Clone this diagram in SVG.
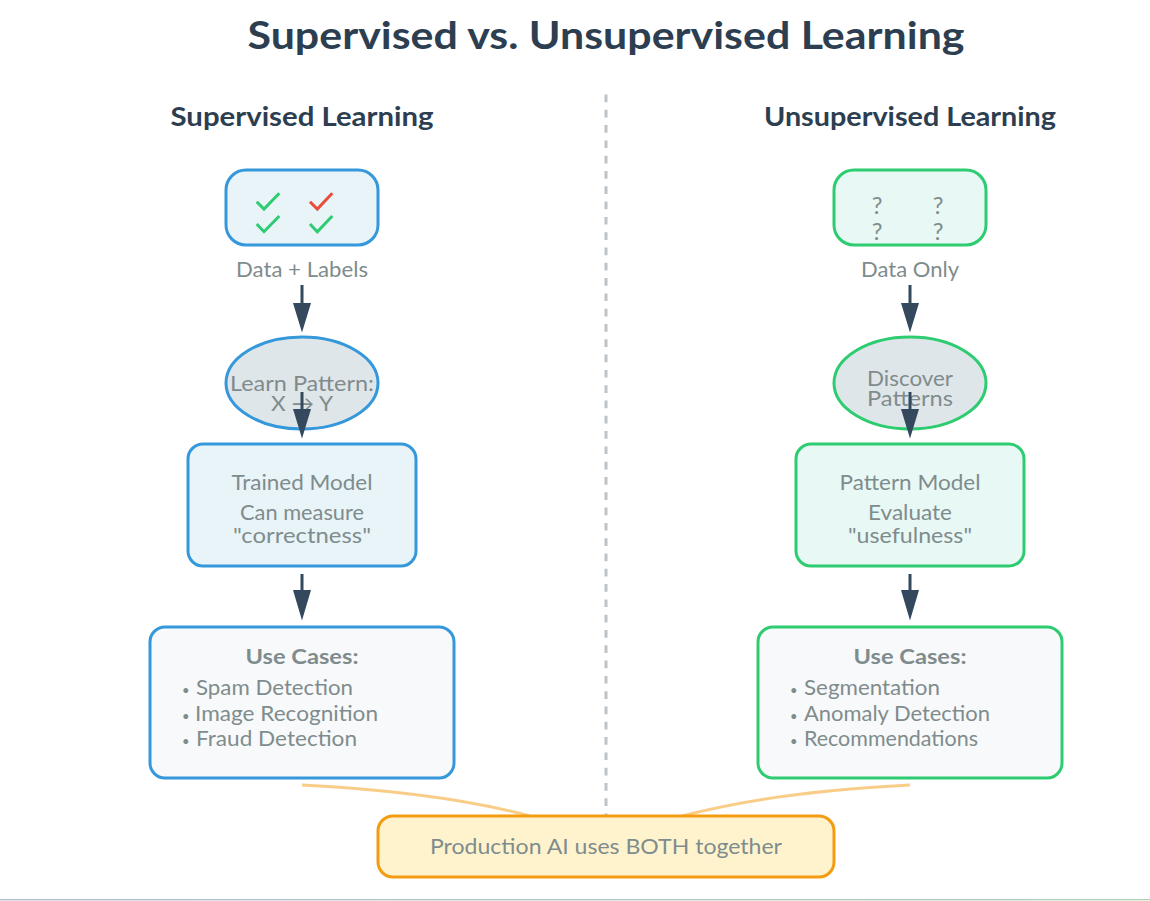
<svg xmlns="http://www.w3.org/2000/svg" width="1150" height="901" viewBox="0 0 1150 901">
<style>
text{font-family:"Lato","Noto Sans",sans-serif;fill:#7f8c8d;text-anchor:middle}
.t{fill:#2c3e50;font-weight:700;font-size:38px}
.h{fill:#2c3e50;font-weight:700;font-size:26px}
.l{font-size:21px}
.b{font-weight:700;font-size:21px}
.li{font-size:21px;text-anchor:start}
.dot{font-size:13px}
.q{font-size:24px}
.ck{fill:none;stroke-width:3;stroke:#2ecc71}
.bad{stroke:#e74c3c}
.blue{stroke:#3498db;stroke-width:3}
.green{stroke:#2ecc71;stroke-width:3}
.arrow{stroke:#34495e;stroke-width:3;fill:none}
.head{fill:#34495e}
</style>
<defs>
<linearGradient id="edge1"><stop offset="0" stop-color="#b6bac8"/><stop offset="1" stop-color="#b4c8ba"/></linearGradient>
<linearGradient id="edge2"><stop offset="0" stop-color="#dfe3f5"/><stop offset="1" stop-color="#dff5e0"/></linearGradient>
</defs>
<rect width="1150" height="901" fill="#fff"/>
<text class="t" x="606" y="49" textLength="717" lengthAdjust="spacingAndGlyphs">Supervised vs. Unsupervised Learning</text>
<text class="h" x="302" y="126" textLength="263" lengthAdjust="spacingAndGlyphs">Supervised Learning</text>
<text class="h" x="910" y="126" textLength="292" lengthAdjust="spacingAndGlyphs">Unsupervised Learning</text>
<line x1="606" y1="94.500" x2="606" y2="816" stroke="#bdc3c7" stroke-width="3" stroke-dasharray="7.700 7.600"/>
<g id="node-data-labels">
<rect x="226" y="170" width="152" height="75" rx="20" fill="#e8f4f8" class="blue"/>
<polyline class="ck" points="256.700,201.700 264,209 279.300,193.300"/>
<polyline class="ck bad" points="310,201.700 317.300,209 332.300,193.300"/>
<polyline class="ck" points="256.700,224 264,231.700 279.300,216"/>
<polyline class="ck" points="310,224 317.300,231.700 332.300,216"/>
<text class="l" x="302" y="277" textLength="132" lengthAdjust="spacingAndGlyphs">Data + Labels</text>
</g>
<g id="node-learn">
<ellipse cx="302" cy="383" rx="76" ry="46" fill="#dfe6e9" class="blue"/>
<text class="l" x="302" y="391" textLength="144" lengthAdjust="spacingAndGlyphs">Learn Pattern:</text>
<text class="l" x="302" y="411" textLength="62" lengthAdjust="spacingAndGlyphs">X → Y</text>
</g>
<g id="node-trained">
<rect x="188" y="444" width="228" height="122" rx="15" fill="#e8f4f8" class="blue"/>
<text class="l" x="302" y="490" textLength="141" lengthAdjust="spacingAndGlyphs">Trained Model</text>
<text class="l" x="302" y="520" textLength="124" lengthAdjust="spacingAndGlyphs">Can measure</text>
<text class="l" x="302" y="543" textLength="138" lengthAdjust="spacingAndGlyphs">"correctness"</text>
</g>
<g id="node-usecases-sup">
<rect x="150" y="627" width="304" height="151" rx="15" fill="#f8f9fa" class="blue"/>
<text class="b" x="302" y="664" textLength="113" lengthAdjust="spacingAndGlyphs">Use Cases:</text>
<text class="li" x="182" y="695"><tspan class="dot">•</tspan><tspan x="196" textLength="157" lengthAdjust="spacingAndGlyphs">Spam Detection</tspan></text>
<text class="li" x="182" y="721"><tspan class="dot">•</tspan><tspan x="195" textLength="183" lengthAdjust="spacingAndGlyphs">Image Recognition</tspan></text>
<text class="li" x="182" y="746"><tspan class="dot">•</tspan><tspan x="196" textLength="161" lengthAdjust="spacingAndGlyphs">Fraud Detection</tspan></text>
</g>
<g id="node-data-only">
<rect x="834" y="170" width="152" height="75" rx="20" fill="#e8f8f5" class="green"/>
<text class="q" x="877" y="214">?</text>
<text class="q" x="938" y="214">?</text>
<text class="q" x="877" y="240">?</text>
<text class="q" x="938" y="240">?</text>
<text class="l" x="910" y="277" textLength="98" lengthAdjust="spacingAndGlyphs">Data Only</text>
</g>
<g id="node-discover">
<ellipse cx="910" cy="383" rx="76" ry="46" fill="#dfe6e9" class="green"/>
<text class="l" x="910" y="386" textLength="86" lengthAdjust="spacingAndGlyphs">Discover</text>
<text class="l" x="910" y="406" textLength="86" lengthAdjust="spacingAndGlyphs">Patterns</text>
</g>
<g id="node-pattern">
<rect x="796" y="444" width="228" height="122" rx="15" fill="#e8f8f5" class="green"/>
<text class="l" x="910" y="490" textLength="141" lengthAdjust="spacingAndGlyphs">Pattern Model</text>
<text class="l" x="910" y="520" textLength="84" lengthAdjust="spacingAndGlyphs">Evaluate</text>
<text class="l" x="910" y="543" textLength="124" lengthAdjust="spacingAndGlyphs">"usefulness"</text>
</g>
<g id="node-usecases-unsup">
<rect x="758" y="627" width="304" height="151" rx="15" fill="#f8f9fa" class="green"/>
<text class="b" x="910" y="664" textLength="113" lengthAdjust="spacingAndGlyphs">Use Cases:</text>
<text class="li" x="790" y="695"><tspan class="dot">•</tspan><tspan x="804" textLength="136" lengthAdjust="spacingAndGlyphs">Segmentation</tspan></text>
<text class="li" x="790" y="721"><tspan class="dot">•</tspan><tspan x="804" textLength="186" lengthAdjust="spacingAndGlyphs">Anomaly Detection</tspan></text>
<text class="li" x="790" y="746"><tspan class="dot">•</tspan><tspan x="804" textLength="174" lengthAdjust="spacingAndGlyphs">Recommendations</tspan></text>
</g>
<g id="connectors">
<path class="arrow" d="M302 285V305M302 392V411M302 574V592M910 285V305M910 392V411M910 574V592"/>
<path class="head" d="M293 303H311L302 332.500ZM293 409H311L302 438.500ZM293 590H311L302 620.500ZM901 303H919L910 332.500ZM901 409H919L910 438.500ZM901 590H919L910 620.500Z"/>
<path d="M302 785Q440 792 530 816M910 785Q772 792 682 816" fill="none" stroke="#f39c12" stroke-width="3" stroke-opacity=".5"/>
</g>
<g id="node-production">
<rect x="378" y="816" width="456" height="61" rx="15" fill="#fff3cd" stroke="#f39c12" stroke-width="3"/>
<text class="l" x="606" y="854" textLength="352" lengthAdjust="spacingAndGlyphs">Production AI uses BOTH together</text>
</g>
<rect x="0" y="899" width="1150" height="1" fill="url(#edge1)"/>
<rect x="0" y="900" width="1150" height="1" fill="url(#edge2)"/>
</svg>
